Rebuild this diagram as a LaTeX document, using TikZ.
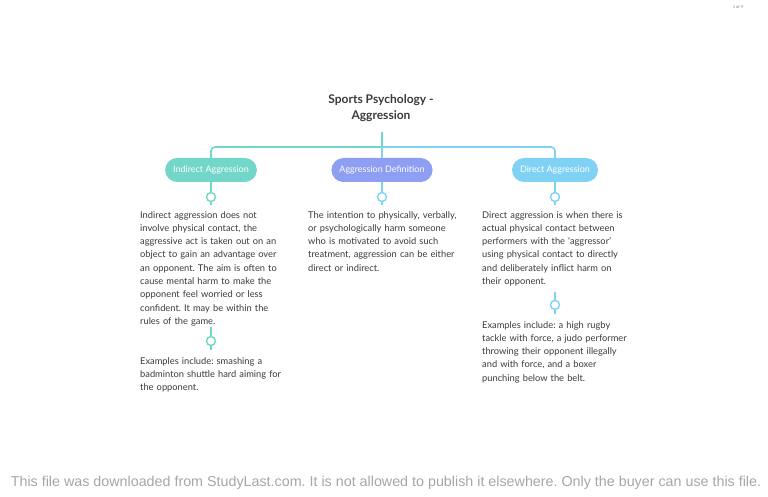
\documentclass[tikz,border=0pt]{standalone}
\usepackage{fontspec}
\setmainfont{Lato}
\newfontfamily\footfont{Liberation Sans}
\usetikzlibrary{positioning}
\hyphenpenalty=10000
\exhyphenpenalty=10000
\frenchspacing
\definecolor{tealc}{HTML}{72D6C9}
\definecolor{purpc}{HTML}{8E9EF2}
\definecolor{bluec}{HTML}{80D2F5}
\definecolor{textc}{HTML}{3A3A3A}
\tikzset{
  pill/.style={rounded corners=12pt, minimum height=24pt, text=white, font=\fontsize{9}{10}\selectfont, inner xsep=8pt},
  body/.style={anchor=north west, align=left, text=textc, inner sep=0pt, font=\fontsize{9.3}{13.3}\selectfont},
  knob/.style={circle, line width=1.4pt, fill=white, minimum size=9pt, inner sep=0pt},
  link/.style={line width=1.6pt}
}
\begin{document}
\begin{tikzpicture}[x=1pt,y=-1pt]
    \useasboundingbox (0,0) rectangle (768,497);

    % Titre
    \node[font=\bfseries\fontsize{12}{16}\selectfont, text=textc, align=center] (title) at (381,108) {Sports Psychology -\\Aggression};
    \coordinate (top) at (382,132);
    \coordinate (hub) at (382,147);

    % Bulles
    \node[pill, fill=tealc] (indirect) at (211,170) {Indirect Aggression};
    \node[pill, fill=purpc] (definition) at (382,170) {Aggression Definition};
    \node[pill, fill=bluec] (direct) at (555,170) {Direct Aggression};

    % Liaisons
    \draw[link, tealc] (top) -- (hub);
    \draw[link, tealc, rounded corners=4pt] (hub) -| (indirect.north);
    \draw[link, bluec, rounded corners=4pt] (hub) -| (direct.north);
    \draw[link, bluec] (hub) -- (definition.north);

    % Boutons
    \node[knob, draw=tealc] (k1) at (211,197) {};
    \node[knob, draw=bluec] (k2) at (382,197) {};
    \node[knob, draw=bluec] (k3) at (555,197) {};
    \node[knob, draw=tealc] (k4) at (211,341) {};
    \node[knob, draw=bluec] (k5) at (555,305) {};
    \coordinate (k1e) at (211,205);
    \coordinate (k2e) at (382,205);
    \coordinate (k3e) at (555,205);
    \coordinate (k4s) at (211,327);
    \coordinate (k4e) at (211,350);
    \coordinate (k5s) at (555,292);
    \coordinate (k5e) at (555,314);
    \draw[link, tealc] (indirect) -- (k1) (k1) -- (k1e);
    \draw[link, bluec] (definition) -- (k2) (k2) -- (k2e);
    \draw[link, bluec] (direct) -- (k3) (k3) -- (k3e);
    \draw[link, tealc] (k4s) -- (k4) (k4) -- (k4e);
    \draw[link, bluec] (k5s) -- (k5) (k5) -- (k5e);

    % Textes
    \node[body, text width=146pt] (t1) at (140,211) {Indirect aggression does not involve physical contact, the aggressive act is taken out on an object to gain an advantage over an opponent. The aim is often to cause mental harm to make the opponent feel worried or less confident. It may be within the rules of the game.};
    \node[body, text width=147pt] (t2) at (140,357) {Examples include: smashing a badminton shuttle hard aiming for the opponent.};
    \node[body, text width=158pt] (t3) at (308,211) {The intention to physically, verbally, or psychologically harm someone who is motivated to avoid such treatment, aggression can be either direct or indirect.};
    \node[body, text width=150pt] (t4) at (482,211) {Direct aggression is when there is actual physical contact between performers with the `aggressor' using physical contact to directly and deliberately inflict harm on their opponent.};
    \node[body, text width=145pt] (t5) at (482,321) {Examples include: a high rugby tackle with force, a judo performer throwing their opponent illegally and with force, and a boxer punching below the belt.};

    % Pied de page
    \node[font=\fontsize{4}{5}\selectfont, text=gray] (page) at (738,7) {1 of 9};
    \node[font=\footfont\fontsize{14.3}{17}\selectfont, text=black!35] (footer) at (386,483) {This file was downloaded from StudyLast.com. It is not allowed to publish it elsewhere. Only the buyer can use this file.};
\end{tikzpicture}
\end{document}
